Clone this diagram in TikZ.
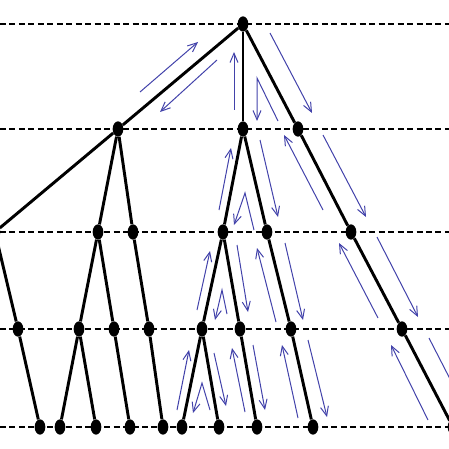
\documentclass[tikz,border=0pt]{standalone}
\usetikzlibrary{shapes.geometric,arrows.meta}
\definecolor{flowblue}{RGB}{66,66,170}

\begin{document}
\begin{tikzpicture}[x=0.75pt,y=0.75pt,yscale=-1,xscale=1,
  knot/.style={ellipse,fill=black,inner sep=0pt,minimum width=8pt,minimum height=11.5pt},
  branch/.style={line width=2.2pt,black},
  gridline/.style={line width=1.3pt,black,dash pattern=on 4.5pt off 2.6pt},
  flow/.style={line width=0.75pt,color=flowblue,-{Straight Barb[length=7pt,width=6pt]}}]
\useasboundingbox (0,0) rectangle (449,449);
\clip (0,0) rectangle (449,449);

%Dashed Lines
\draw [gridline] (0,24) -- (449,24) ;
\draw [gridline] (0,129) -- (449,129) ;
\draw [gridline] (0,232) -- (449,232) ;
\draw [gridline] (0,329) -- (449,329) ;
\draw [gridline] (0,427) -- (449,427) ;

%Nodes, level 0 and 1
\node [knot] (r) at (243,24) {};
\node [knot] (a1) at (118,129) {};
\node [knot] (b1) at (243,129) {};
\node [knot] (c1) at (298,129) {};
%Nodes, level 2
\node [knot] (a2) at (-5,232) {};
\node [knot] (b2) at (98,232) {};
\node [knot] (c2) at (133,232) {};
\node [knot] (d2) at (223,232) {};
\node [knot] (e2) at (267,232) {};
\node [knot] (f2) at (351,232) {};
%Nodes, level 3
\node [knot] (a3) at (18,329) {};
\node [knot] (b3) at (79,329) {};
\node [knot] (c3) at (114,329) {};
\node [knot] (d3) at (149,329) {};
\node [knot] (e3) at (202,329) {};
\node [knot] (f3) at (240,329) {};
\node [knot] (g3) at (291,329) {};
\node [knot] (h3) at (402,329) {};
%Nodes, level 4
\node [knot] (a4) at (40,427) {};
\node [knot] (b4) at (60,427) {};
\node [knot] (c4) at (96,427) {};
\node [knot] (d4) at (130,427) {};
\node [knot] (e4) at (163,427) {};
\node [knot] (f4) at (182,427) {};
\node [knot] (g4) at (219,427) {};
\node [knot] (h4) at (257,427) {};
\node [knot] (i4) at (313,427) {};
\node [knot] (j4) at (453,427) {};

%Tree Branches
\draw [branch] (r) -- (a1) ;
\draw [branch] (r) -- (b1) ;
\draw [branch] (r) -- (c1) ;
\draw [branch] (a1) -- (a2) ;
\draw [branch] (a1) -- (b2) ;
\draw [branch] (a1) -- (c2) ;
\draw [branch] (b1) -- (d2) ;
\draw [branch] (b1) -- (e2) ;
\draw [branch] (c1) -- (f2) ;
\draw [branch] (a2) -- (a3) ;
\draw [branch] (b2) -- (b3) ;
\draw [branch] (b2) -- (c3) ;
\draw [branch] (c2) -- (d3) ;
\draw [branch] (d2) -- (e3) ;
\draw [branch] (d2) -- (f3) ;
\draw [branch] (e2) -- (g3) ;
\draw [branch] (f2) -- (h3) ;
\draw [branch] (a3) -- (a4) ;
\draw [branch] (b3) -- (b4) ;
\draw [branch] (b3) -- (c4) ;
\draw [branch] (c3) -- (d4) ;
\draw [branch] (d3) -- (e4) ;
\draw [branch] (e3) -- (f4) ;
\draw [branch] (e3) -- (g4) ;
\draw [branch] (f3) -- (h4) ;
\draw [branch] (g3) -- (i4) ;
\draw [branch] (h3) -- (j4) ;

%Flow Arrows, level 0 to 1
\draw [flow] (140,92) -- (198,42) ;
\draw [flow] (217,60) -- (160,112) ;
\draw [flow] (234,110) -- (234,52) ;
\draw [flow] (278,121) -- (257,78) -- (257,121) ;
\draw [flow] (270,33) -- (312,113) ;
%Flow Arrows, level 1 to 2
\draw [flow] (219,210) -- (231,148) ;
\draw [flow] (254,230) -- (245,193) -- (234,225) ;
\draw [flow] (260,140) -- (278,217) ;
\draw [flow] (323,210) -- (284,135) ;
\draw [flow] (323,135) -- (366,217) ;
%Flow Arrows, level 2 to 3
\draw [flow] (197,310) -- (210,251) ;
\draw [flow] (227,314) -- (222,290) -- (215,320) ;
\draw [flow] (237,245) -- (248,312) ;
\draw [flow] (276,322) -- (257,248) ;
\draw [flow] (285,243) -- (303,320) ;
\draw [flow] (378,318) -- (339,243) ;
\draw [flow] (377,237) -- (418,317) ;
%Flow Arrows, level 3 to 4
\draw [flow] (177,410) -- (189,350) ;
\draw [flow] (210,410) -- (202,383) -- (193,413) ;
\draw [flow] (214,353) -- (226,406) ;
\draw [flow] (245,412) -- (232,348) ;
\draw [flow] (253,345) -- (265,410) ;
\draw [flow] (298,418) -- (282,345) ;
\draw [flow] (308,340) -- (327,417) ;
\draw [flow] (428,420) -- (391,345) ;
\draw [flow] (429,338) -- (470,418) ;

\end{tikzpicture}
\end{document}
